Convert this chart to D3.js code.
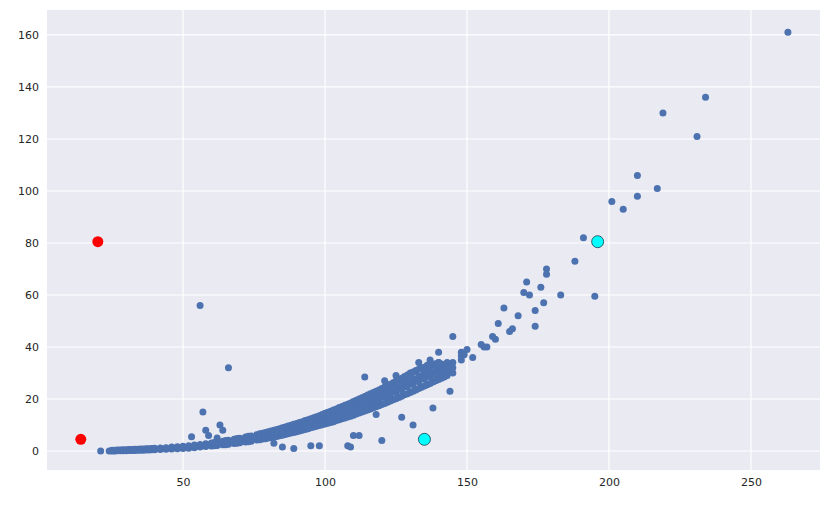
<!DOCTYPE html>
<html><head><meta charset="utf-8">
<script src="https://cdn.jsdelivr.net/npm/d3@7"></script>
<style>body{margin:0;background:#fff;font-family:"DejaVu Sans",Arial,sans-serif}</style>
</head><body><svg id="c" width="831" height="507"></svg>
<script>
// band: [x, low, mid, high]
const band = [[25,0,.15,.3],[26,0,.15,.3],[27,.1,.25,.4],[28,.1,.25,.4],[29,.1,.3,.5],[30,.1,.3,.5],[31,.2,.4,.6],[32,.2,.4,.6],[33,.2,.45,.7],[34,.3,.5,.7],[35,.3,.55,.8],[36,.3,.55,.8],[37,.4,.65,.9],[38,.4,.65,.9],[39,.5,.75,1],[40,.5,.8,1.1],[42,.6,.9,1.2],[44,.7,1,1.3],[46,.8,1.15,1.5],[48,.9,1.25,1.6],[50,1,1.4,1.8],[52,1.1,1.55,2],[54,1.3,1.8,2.3],[56,1.5,2,2.5],[58,1.7,2.25,2.8],[60,1.9,2.5,3.1],[62,2.1,2.75,3.4],[64,2.4,3.1,3.8],[66,2.6,3.35,4.1],[68,2.9,3.7,4.5],[70,3.2,4,4.9],[72,3.5,4.45,5.4],[74,3.8,4.8,5.8],[76,4.2,5.25,6.3],[78,4.6,5.7,6.8],[80,5,6.2,7.4],[82,5.4,6.7,8],[84,5.9,7.25,8.6],[86,6.4,7.8,9.2],[88,6.9,8.4,9.9],[90,7.4,9,10.6],[92,8,9.65,11.3],[94,8.6,10.3,12],[96,9.2,11,12.8],[98,9.8,11.7,13.6],[100,10.4,12.45,14.5],[102,11,13.15,15.3],[104,11.7,13.95,16.2],[106,12.4,14.75,17.1],[108,13.1,15.55,18],[110,13.8,16.4,19],[112,14.6,17.3,20],[114,15.4,18.2,21],[116,16.2,19.1,22],[118,17,20,23],[120,17.9,20.95,24],[122,18.8,22,25.2],[124,19.7,23,26.3],[126,20.6,24,27.5],[128,21.6,25.1,28.7],[130,22.5,26.2,30],[132,23.5,27.2,31],[134,24.5,28.2,32],[136,25.5,29.2,33],[138,26.5,30,33.5],[140,27.5,30.7,34],[142,28.5,30.7,33],[145,30,32,34],[148,35,36.5,38]];
// odd-x fill: [x, y1, y2, y3, y4]
const band2 = [[61,2,2.5,3,3.3],[65,2.4,3,3.6,4],[69,3,3.6,4.2,4.8],[73,3.6,4.3,5,5.7],[77,4.3,5.1,5.9,6.6],[79,4.7,5.5,6.3,7.1],[81,5.1,6,6.8,7.7],[83,5.6,6.5,7.4,8.3],[85,6.1,7.1,8,8.9],[87,6.6,7.6,8.7,9.6],[89,7.1,8.2,9.3,10.3],[91,7.7,8.9,10,11],[93,8.3,9.5,10.7,11.7],[95,8.9,10.2,11.4,12.4],[97,9.5,10.9,12.1,13.2],[99,10.1,11.6,12.9,14],[101,10.7,12.2,13.7,14.9],[103,11.3,12.9,14.4,15.8],[105,12,13.7,15.2,16.7],[107,12.7,14.5,16.1,17.6],[109,13.4,15.3,17,18.5],[111,14.2,16.1,17.9,19.5],[113,15,17,18.8,20.5],[115,15.8,17.8,19.7,21.5],[117,16.6,18.7,20.7,22.5],[119,17.4,19.6,21.6,23.5],[121,18.3,20.6,22.6,24.6],[123,19.2,21.5,23.6,25.7],[125,20.1,22.5,24.7,26.9],[127,21.1,23.5,25.8,28],[129,22,24.6,26.9,29.2],[131,23,25.6,27.9,30.4],[133,24,26.6,28.9,31.4],[135,25,27.6,29.9,32.2],[137,26,28.6,30.8,33],[139,27,29.3,31.6,33.6],[141,28,30,32,33.5],[143,29,31,32.5,34]];
const extra = [[263,161],[234,136],[231,121],[219,130],[217,101],[210,106],[210,98],[205,93],[201,96],[191,82],[188,73],[195,59.5],[183,60],[178,70],[178,68],[176,63],[177,57],[174,54],[174,48],[172,60],[171,65],[170,61],[168,52],[166,47],[165,46],[163,55],[161,49],[160,43],[159,44],[157,40],[156,40],[155,41],[152,36],[150,39],[149,37],[145,44],[140,38],[140,34],[137,35],[144,23],[138,16.5],[56,56],[66,32],[57,15],[58,8],[120,4],[114,28.5],[110,6],[108,2],[95,2],[85,1.5],[21,0],[24,0],[98,2],[109,1.5],[89,1],[82,3],[112,6],[62,5],[59,6],[63,10],[64,8],[53,5.5],[131,10],[127,13],[118,14],[135,31],[133,34],[121,27],[125,29]];
const red = [[14,4.5],[20,80.5]];
const cyan = [[196,80.5],[135,4.5]];
const xTicks=[50,100,150,200,250], yTicks=[0,20,40,60,80,100,120,140,160];

const svg=d3.select("#c"), L=47,R=820,T=10,B=470;
const x=d3.scaleLinear().domain([2.1,274.3]).range([L,R]);
const y=d3.scaleLinear().domain([-7.3,169.6]).range([B,T]);
svg.append("rect").attr("x",L).attr("y",T).attr("width",R-L).attr("height",B-T).attr("fill","#eaeaf2");
const g=svg.append("g");
g.selectAll(".gx").data(xTicks).join("line").attr("x1",d=>x(d)).attr("x2",d=>x(d)).attr("y1",T).attr("y2",B).attr("stroke","#fff").attr("stroke-width",1.2);
g.selectAll(".gy").data(yTicks).join("line").attr("y1",d=>y(d)).attr("y2",d=>y(d)).attr("x1",L).attr("x2",R).attr("stroke","#fff").attr("stroke-width",1.2);
const ax=svg.append("g").attr("transform",`translate(0,${B})`).call(d3.axisBottom(x).tickValues(xTicks).tickSize(0).tickPadding(8));
const ay=svg.append("g").attr("transform",`translate(${L},0)`).call(d3.axisLeft(y).tickValues(yTicks).tickSize(0).tickPadding(8));
[ax,ay].forEach(a=>{a.select(".domain").remove();a.selectAll("text").attr("font-size",11).attr("fill","#262626").attr("font-family","DejaVu Sans");});
const pts=[];band.forEach(b=>{pts.push([b[0],b[1]],[b[0],b[2]],[b[0],b[3]]);});
band2.forEach(b=>{for(let i=1;i<5;i++)pts.push([b[0],b[i]]);});extra.forEach(p=>pts.push(p));
const clip=svg.append("g");
clip.selectAll(".p").data(pts).join("circle").attr("cx",d=>x(d[0])).attr("cy",d=>y(d[1])).attr("r",3.5).attr("fill","#4c72b0");
clip.selectAll(".r").data(red).join("circle").attr("cx",d=>x(d[0])).attr("cy",d=>y(d[1])).attr("r",5.5).attr("fill","#ff0000");
clip.selectAll(".cy").data(cyan).join("circle").attr("cx",d=>x(d[0])).attr("cy",d=>y(d[1])).attr("r",6).attr("fill","#00ffff").attr("stroke","#1a3a4a").attr("stroke-width",0.8);
</script></body></html>
